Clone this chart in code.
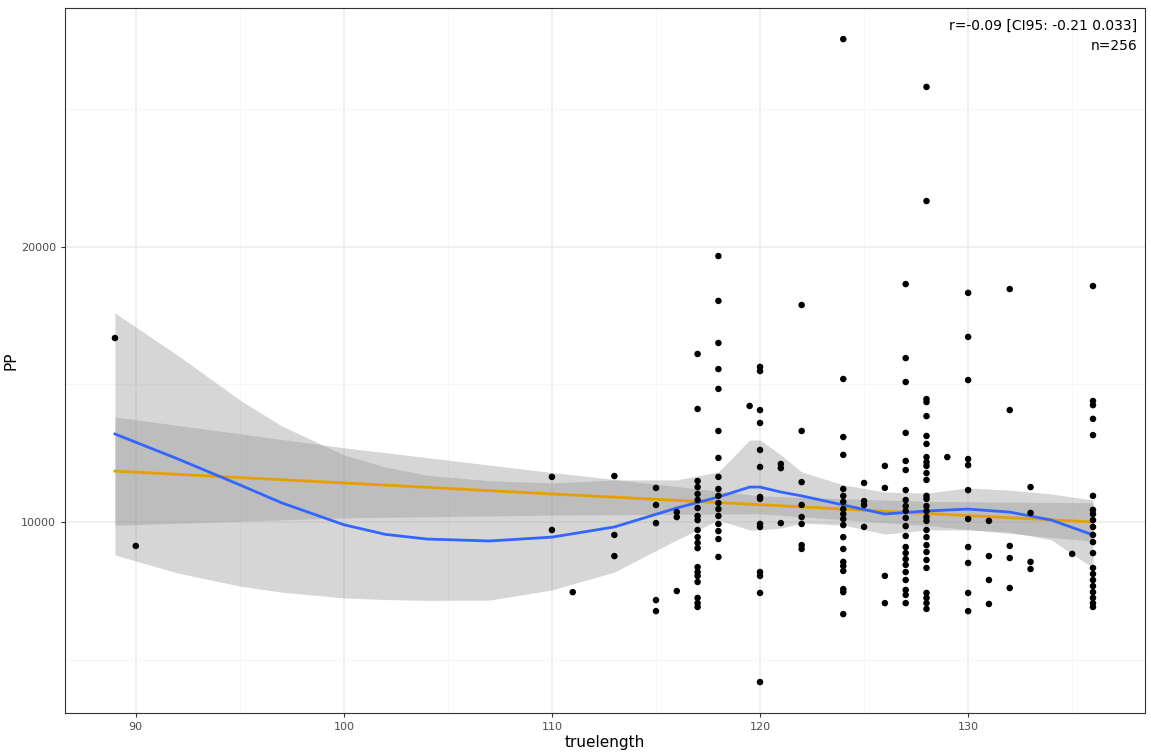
import numpy as np, pandas as pd, seaborn as sns, matplotlib
matplotlib.use("Agg")
import matplotlib.pyplot as plt

pts = {
89:[16690],90:[9130],110:[11640,9710],111:[7450],113:[11670,9530,8760],
115:[11240,10620,9960,7160,6760],116:[10360,10180,7490],
117:[16110,14110,11490,11270,11020,10800,10510,10220,10070,9710,9450,9240,9050,8360,8180,8040,7820,7240,7050,6910],
118:[19670,18040,16510,15560,14840,13310,12330,11640,11200,10950,10690,10470,10220,9930,9670,9380,8730],
119.5:[14220],
120:[15640,15490,14070,13600,12620,12000,10910,10840,9930,9820,8180,8040,7420,4180],
121:[12110,11960,9960],122:[17890,13310,11450,10620,10180,9930,9160,9020],
124:[27560,15200,13090,12440,11200,10950,10730,10470,10290,10110,9890,9450,9020,8550,8400,8220,7560,7450,6650],
125:[11420,10760,10620,9820],126:[12040,11240,8040,7050],
127:[18650,15960,15090,13240,12220,11890,11160,10800,10580,10400,10150,9850,9490,9090,8870,8650,8440,8180,7890,7530,7350,7050],
128:[25820,21670,14470,14360,13850,13130,12840,12360,12180,12040,11780,11530,10950,10840,10580,10400,10180,10040,9710,9450,9160,8910,8620,8330,7420,7240,7050,6840],
129:[12360],130:[18330,16730,15160,12290,12070,11160,10110,9090,8510,7420,6760],
131:[10040,8760,7890,7020],132:[18470,14070,9130,8690,7600],133:[11270,10330,8550,8290],
135:[8840],
136:[18580,14400,14250,13750,13160,10950,10440,10290,10070,9820,9530,9270,8870,8330,8110,7890,7670,7450,7240,7050,6910],
}
truelength = [k for k,v in pts.items() for _ in v]
PP = [y for v in pts.values() for y in v]
df = pd.DataFrame({"truelength":truelength,"PP":PP})

# fitted curves
loess_x  = [89,92,95,97,100,102,104,107,110,113,116,118,119.5,120,121,122,124,126,128,130,132,134,136]
loess_y  = [13200,12300,11350,10700,9900,9550,9380,9310,9450,9820,10510,10910,11270,11270,11090,10950,10620,10290,10400,10470,10360,10070,9530]
loess_lo = [8800,8150,7670,7450,7240,7180,7150,7160,7530,8180,9350,10070,9710,9710,9780,9960,9890,9560,9710,9710,9640,9350,8330]
loess_hi = [17600,16070,14440,13500,12440,12000,11700,11500,11420,11530,11530,11820,12980,12980,12440,11820,11350,11090,11050,11240,11160,11020,10800]
lin_x  = [89,100,110,120,128,136]
lin_y  = [11850,11420,11020,10630,10310,10000]
lin_lo = [9880,10150,10250,10300,9870,9300]
lin_hi = [13820,12700,11800,10950,10750,10700]

fig = plt.figure(figsize=(11.51,7.54), dpi=100)
ax = fig.add_axes([65/1151, 41/754, 1080/1151, 705/754])
ax.set_facecolor("white")
ax.fill_between(loess_x, loess_lo, loess_hi, color="#999999", alpha=0.4, lw=0, zorder=2)
ax.fill_between(lin_x, lin_lo, lin_hi, color="#999999", alpha=0.4, lw=0, zorder=2)
sns.lineplot(x=lin_x, y=lin_y, color="#E69F00", lw=2, ax=ax, zorder=4)
sns.lineplot(x=loess_x, y=loess_y, color="#3366FF", lw=2, ax=ax, zorder=5)
sns.scatterplot(data=df, x="truelength", y="PP", color="black", s=22, edgecolor="none", ax=ax, zorder=6)

ax.set_xlim(86.6,138.5); ax.set_ylim(3055,28690)
ax.set_xticks([90,100,110,120,130]); ax.set_xticks([95,105,115,125,135], minor=True)
ax.set_yticks([10000,20000]); ax.set_yticks([5000,15000,25000], minor=True)
ax.grid(True, which="major", color="#EBEBEB", lw=1.1, zorder=0)
ax.grid(True, which="minor", color="#F5F5F5", lw=0.6, zorder=0)
ax.set_axisbelow(True)
for s in ax.spines.values(): s.set_color("#333333"); s.set_linewidth(0.8)
ax.tick_params(which="both", colors="#333333", labelsize=8, labelcolor="#4D4D4D", length=3)
ax.tick_params(which="minor", length=0)
ax.set_xlabel("truelength", fontsize=11, labelpad=2)
ax.set_ylabel("PP", fontsize=11, labelpad=2)
ax.text(0.993,0.985,"r=-0.09 [CI95: -0.21 0.033]\nn=256", transform=ax.transAxes,
        ha="right", va="top", fontsize=10, linespacing=1.6)
fig.savefig("out.png", dpi=100)
